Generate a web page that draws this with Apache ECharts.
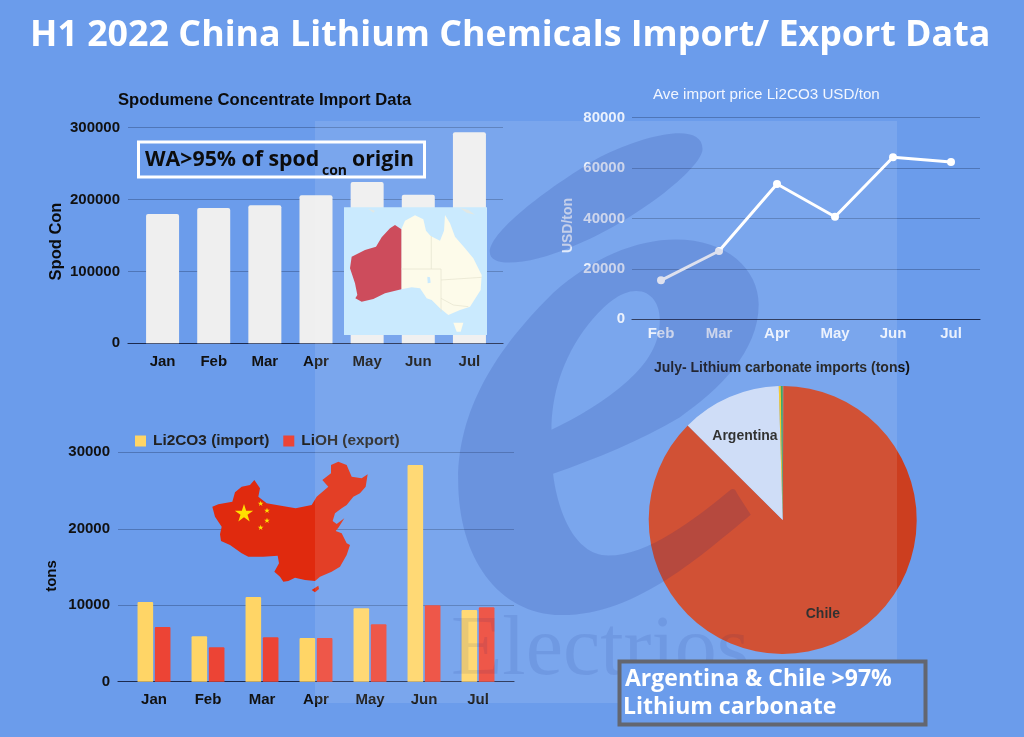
<!DOCTYPE html>
<html>
<head>
<meta charset="utf-8">
<style>html,body{margin:0;padding:0;background:#6b9ceb}#c{width:1024px;height:737px}</style>
<script src="https://cdn.jsdelivr.net/npm/echarts@6/dist/echarts.min.js"></script>
</head>
<body>
<div id="c"></div>
<script>
// Monthly figures
const spodMonths = ['Jan','Feb','Mar','Apr','May','Jun','Jul'];
const spodImports = [180000,188300,192000,205900,224400,206800,293500];
const tradeMonths = ['Jan','Feb','Mar','Apr','May','Jun','Jul'];
const li2co3Import = [10420,5930,11070,5710,9600,28340,9370];
const liohExport = [7150,4490,5800,5710,7500,9990,9730];
const priceMonths = ['Feb','Mar','Apr','May','Jun','Jul'];
const li2co3Price = [15480,27100,53700,40700,64300,62400];
const originNames = ['Other','Chile','Argentina','Bolivia','Russia'];
const originTons = [8,8181,1130,23,21];
const originColors = ['#e8710a','#cc3e1f','#cadaf7','#f5c518','#2e9e4f'];

const boldSans = 'Liberation Sans';
const openSans = 'Open Sans';
const plainNumber = v => String(v);
const inkLabel = {color:'#111',fontFamily:boldSans,fontWeight:'bold',fontSize:15};
const paleLabel = {color:'#eaf1fd',fontFamily:boldSans,fontWeight:'bold',fontSize:15};
const gridLine = {show:true,lineStyle:{color:'#4f76b8',width:1}};
const logoTint = 'rgba(0,20,120,0.13)';
const wordmarkTint = 'rgba(0,20,120,0.085)';

// Decorative map outlines, drawn in local units and scaled down by their group
const waOutline = [[184,88],[165,75],[150,85],[125,112],[108,140],[75,150],[35,170],[30,205],[45,250],[52,285],[46,295],[65,305],[100,297],[135,280],[184,268]];
const ausOutline = [[184,88],[195,62],[225,46],[250,58],[258,92],[272,108],[300,122],[312,92],[315,45],[330,70],[345,110],[375,145],[400,175],[425,225],[422,270],[390,320],[360,330],[325,345],[300,325],[275,300],[260,295],[240,265],[215,262],[184,268]];
const tasOutline = [[340,368],[370,368],[362,395],[350,395]];
const chinaOutline = [[22,155],[40,148],[82,140],[90,112],[110,95],[135,90],[148,75],[165,100],[160,125],[185,145],[215,150],[272,160],[320,150],[335,125],[370,95],[352,75],[378,55],[378,30],[400,20],[425,30],[440,65],[470,70],[488,58],[482,95],[465,115],[445,125],[425,150],[410,160],[390,175],[383,198],[395,207],[418,190],[400,218],[392,228],[410,235],[425,265],[435,270],[425,300],[405,335],[380,350],[345,365],[330,378],[300,375],[270,368],[250,378],[235,380],[225,365],[208,350],[222,325],[218,302],[175,305],[130,305],[110,295],[75,270],[48,258],[45,238],[50,215],[30,185]];
const hainanOutline = [[320,405],[340,392],[342,402],[330,412]];

function star(cx, cy, r) {
  const pts = [];
  for (let i = 0; i < 10; i++) {
    const rad = i % 2 ? r * 0.382 : r;
    const a = -Math.PI / 2 + i * Math.PI / 5;
    pts.push([cx + rad * Math.cos(a), cy + rad * Math.sin(a)]);
  }
  return pts;
}
const poly = (points, fill, z) => ({type:'polygon',z:z,shape:{points:points},style:{fill:fill}});
const seg = (points, z) => ({type:'polyline',z:z,shape:{points:points},style:{stroke:'#e3dfc8',lineWidth:2,fill:null}});
const label = (x, y, text, size, color, family, weight, z) => ({type:'text',x:x,y:y,z:z,style:{text:text,fontSize:size,fill:color,fontFamily:family,fontWeight:weight,textVerticalAlign:'middle',verticalAlign:'middle'}});

const logoMark = 'M 950 333 C 1080 333 1160 410 1160 500 C 1160 620 1060 720 960 790 C 860 850 750 895 640 935 C 650 1020 690 1145 780 1145 C 880 1145 1000 1050 1090 975 Q 1100 970 1105 985 L 1140 1040 C 1020 1140 850 1300 660 1298 C 500 1295 400 1150 400 950 C 400 750 520 590 640 470 C 740 380 850 333 950 333 Z M 850 465 C 810 465 770 500 730 550 C 660 640 636 740 636 822 C 700 790 770 750 830 695 C 880 650 910 600 910 540 C 910 500 890 465 850 465 Z';
const logoLeaf = 'M 1018 100 C 1018 150 840 290 690 350 C 590 395 480 410 480 365 C 480 310 640 190 760 120 C 880 60 1018 30 1018 100 Z';

const chart = echarts.init(document.getElementById('c'), null, {renderer:'canvas'});
chart.setOption({
  animation:false,
  backgroundColor:'#6b9ceb',
  title:[
    {text:'H1 2022 China Lithium Chemicals Import/ Export Data',left:25,top:13,textStyle:{color:'#fff',fontFamily:openSans,fontWeight:'bold',fontSize:35.8}},
    {text:'Spodumene Concentrate Import Data',left:113,top:87,textStyle:{color:'#0c0c0c',fontFamily:boldSans,fontWeight:'bold',fontSize:16.6}},
    {text:'Ave import price Li2CO3 USD/ton',left:648,top:82,textStyle:{color:'#f2f6fe',fontFamily:boldSans,fontWeight:'normal',fontSize:15.2}},
    {text:'July- Lithium carbonate imports (tons)',left:649,top:356,textStyle:{color:'#111',fontFamily:boldSans,fontWeight:'bold',fontSize:14}}
  ],
  legend:{data:['Li2CO3 (import)','LiOH (export)'],left:130,top:428.5,itemWidth:11,itemHeight:11,itemGap:14,icon:'rect',
    textStyle:{color:'#222',fontFamily:boldSans,fontWeight:'bold',fontSize:15.4,padding:[0,0,0,2]}},
  grid:[
    {left:128,top:127.7,width:375,height:215.6},
    {left:137,top:127.7,width:358,height:215.6},
    {left:118,top:452.3,width:396,height:229.4},
    {left:127,top:452.3,width:378,height:229.4},
    {left:632,top:117.7,width:348,height:201.6}
  ],
  xAxis:[
    {gridIndex:0,type:'value',min:0,max:1,axisLine:{show:true,onZero:false,lineStyle:{color:'#1c2a4e',width:1.2}},axisTick:{show:false},axisLabel:{show:false},splitLine:{show:false}},
    {gridIndex:1,type:'category',data:spodMonths,axisLine:{show:false},axisTick:{show:false},axisLabel:Object.assign({margin:11},inkLabel)},
    {gridIndex:2,type:'value',min:0,max:1,axisLine:{show:true,onZero:false,lineStyle:{color:'#1c2a4e',width:1.2}},axisTick:{show:false},axisLabel:{show:false},splitLine:{show:false}},
    {gridIndex:3,type:'category',data:tradeMonths,axisLine:{show:false},axisTick:{show:false},axisLabel:Object.assign({margin:11},inkLabel)},
    {gridIndex:4,type:'category',data:priceMonths,axisLine:{show:true,lineStyle:{color:'#1c2a4e',width:1.2}},axisTick:{show:false},axisLabel:Object.assign({margin:7.5},paleLabel)}
  ],
  yAxis:[
    {gridIndex:0,type:'value',min:0,max:300000,interval:100000,name:'Spod Con',nameLocation:'middle',nameGap:63,nameTextStyle:{color:'#0c0c0c',fontFamily:boldSans,fontWeight:'bold',fontSize:16.5,padding:[0,12,0,0]},axisLabel:Object.assign({margin:8,formatter:plainNumber},inkLabel),axisLine:{show:false},axisTick:{show:false},splitLine:gridLine},
    {gridIndex:1,type:'value',min:0,max:300000,interval:100000,show:false,splitLine:{show:false}},
    {gridIndex:2,type:'value',min:0,max:30000,interval:10000,name:'tons',nameLocation:'middle',nameGap:59,nameTextStyle:{color:'#0c0c0c',fontFamily:boldSans,fontWeight:'bold',fontSize:15,padding:[0,18,0,0]},axisLabel:Object.assign({margin:8,formatter:plainNumber},inkLabel),axisLine:{show:false},axisTick:{show:false},splitLine:gridLine},
    {gridIndex:3,type:'value',min:0,max:30000,interval:10000,show:false,splitLine:{show:false}},
    {gridIndex:4,type:'value',min:0,max:80000,interval:20000,name:'USD/ton',nameLocation:'middle',nameGap:57,nameTextStyle:{color:'#dfe9fb',fontFamily:boldSans,fontWeight:'bold',fontSize:14,padding:[0,14,0,0]},axisLabel:Object.assign({margin:7,formatter:plainNumber},paleLabel),axisLine:{show:false},axisTick:{show:false},splitLine:gridLine}
  ],
  series:[
    {type:'bar',name:'Spod Con',xAxisIndex:1,yAxisIndex:1,data:spodImports,barWidth:33,itemStyle:{color:'#efefef',borderRadius:[2,2,0,0]}},
    {type:'bar',name:'Li2CO3 (import)',xAxisIndex:3,yAxisIndex:3,data:li2co3Import,barWidth:15.6,barGap:'11%',itemStyle:{color:'#ffd566',borderRadius:[1,1,0,0]}},
    {type:'bar',name:'LiOH (export)',xAxisIndex:3,yAxisIndex:3,data:liohExport,barWidth:15.6,barGap:'11%',itemStyle:{color:'#ec4435',borderRadius:[1,1,0,0]}},
    {type:'line',name:'Price',xAxisIndex:4,yAxisIndex:4,data:li2co3Price,symbol:'circle',symbolSize:8,lineStyle:{color:'#fff',width:3},itemStyle:{color:'#fff'}},
    {type:'pie',name:'Origin',center:[782.7,520],radius:[0,134],startAngle:90,clockwise:true,avoidLabelOverlap:false,label:{show:false},labelLine:{show:false},
      data:originNames.map((n,i)=>({name:n,value:originTons[i],itemStyle:{color:originColors[i]}}))},
    // Carrier ring that places the two country names near the outer edge of their slices
    {type:'pie',name:'Origin labels',center:[782.7,520],radius:[60,134],startAngle:90,clockwise:true,avoidLabelOverlap:false,silent:true,itemStyle:{color:'transparent'},labelLine:{show:false},z:3,
      label:{show:true,position:'inner',color:'#1a1a1a',fontFamily:boldSans,fontWeight:'bold',fontSize:14,formatter:p=>(p.name==='Chile'||p.name==='Argentina')?p.name:''},
      labelLayout:p=>(p.dataIndex===2?{dx:2,dy:8}:{dx:2,dy:2}),
      data:originNames.map((n,i)=>({name:n,value:originTons[i]}))},
    // Logo watermark laid over the charts
    {type:'custom',coordinateSystem:'none',z:60,silent:true,data:[0],renderItem:()=>({type:'group',children:[
      {type:'path',x:300,y:110,scaleX:1/2.529,scaleY:1/2.57,shape:{pathData:logoMark},style:{fill:logoTint}},
      {type:'path',x:300,y:110,scaleX:1/2.529,scaleY:1/2.57,shape:{pathData:logoLeaf},style:{fill:logoTint}}
    ]})}
  ],
  graphic:{elements:[
    // Australia inset with Western Australia highlighted
    {type:'group',x:340,y:200,scaleX:1/3,scaleY:1/3,children:[
      {type:'rect',z:10,shape:{x:12,y:22,width:429,height:383},style:{fill:'#c5e8fe'}},
      poly(ausOutline,'#fdfbe8',11),
      poly(tasOutline,'#fdfbe8',11),
      poly(waOutline,'#c8384a',12),
      seg([[274,108],[274,207]],13),seg([[184,207],[303,207]],13),seg([[303,207],[303,335]],13),seg([[303,240],[425,232]],13),seg([[303,295],[340,315],[385,320]],13),
      poly([[262,230],[270,232],[272,248],[263,250]],'#c5e8fe',13),
      poly([[360,24],[385,30],[405,44],[380,38]],'#dfe6e2',11),
      poly([[85,26],[105,32],[100,38]],'#dfe6e2',11)
    ]},
    // China inset with flag stars
    {type:'group',x:205,y:455,scaleX:1/3,scaleY:1/3,children:[
      poly(chinaOutline,'#e02a0e',10),
      poly(hainanOutline,'#e02a0e',10),
      poly(star(117,176,29),'#ffe000',11),
      poly(star(167,146,9),'#ffe000',11),
      poly(star(186,167,9),'#ffe000',11),
      poly(star(186,197,9),'#ffe000',11),
      poly(star(167,218,9),'#ffe000',11)
    ]},
    {type:'rect',z:50,silent:true,shape:{x:315,y:121,width:582,height:582},style:{fill:'rgba(255,255,255,0.1)'}},
    {type:'text',x:451,y:694,z:61,silent:true,style:{text:'Electrios',fontFamily:'Liberation Serif',fontSize:84,fill:wordmarkTint,textVerticalAlign:'bottom',verticalAlign:'bottom'}},
    // Callout boxes
    {type:'rect',z:70,shape:{x:138.5,y:142,width:286,height:35},style:{fill:'none',stroke:'#fff',lineWidth:3}},
    label(145,160,'WA>95% of spod',21.3,'#0c0c0c',openSans,'bold',71),
    label(322,171,'con',14,'#0c0c0c',openSans,'bold',71),
    label(352,160,'origin',21.3,'#0c0c0c',openSans,'bold',71),
    {type:'rect',z:70,shape:{x:619.5,y:661.5,width:306,height:63},style:{fill:'#6b9ceb',stroke:'#636670',lineWidth:4}},
    label(625,679,'Argentina & Chile >97%',23,'#fff',openSans,'bold',71),
    label(623,707,'Lithium carbonate',23,'#fff',openSans,'bold',71)
  ]}
});
</script>
</body>
</html>
